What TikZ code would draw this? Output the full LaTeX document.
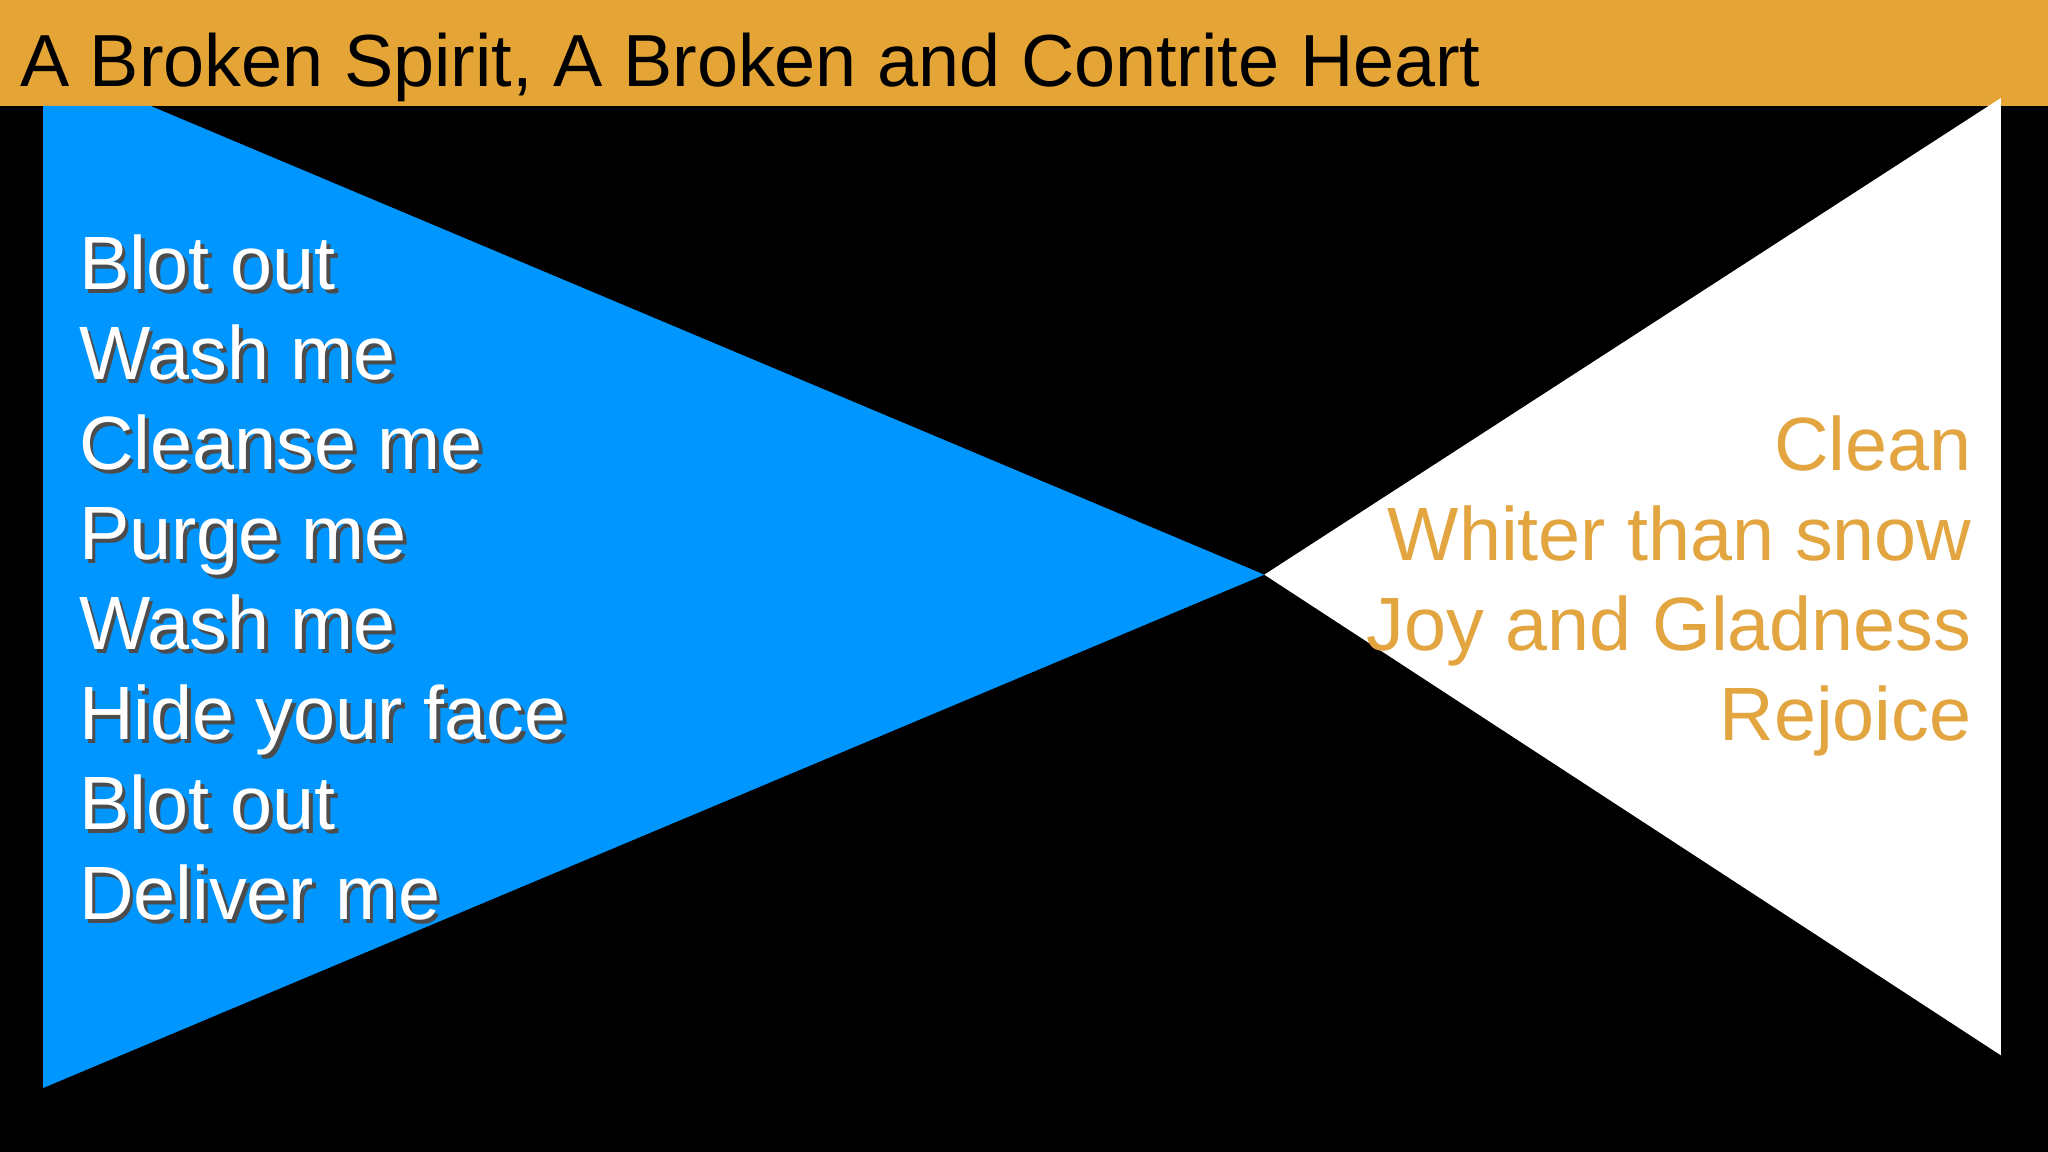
\documentclass[tikz,border=0pt]{standalone}
\usepackage{fontspec}
\setmainfont{Liberation Sans}
\definecolor{barorange}{HTML}{E4A436}
\definecolor{tblue}{HTML}{0096FF}
\definecolor{txtorange}{HTML}{E2A540}
\begin{document}
\begin{tikzpicture}[x=0.013061cm,y=-0.013061cm,
  lefttxt/.style={anchor=base west,inner sep=0pt,text=white,font=\fontsize{21.5}{24}\selectfont},
  shadowtxt/.style={anchor=base west,inner sep=0pt,text=black!70,font=\fontsize{21.5}{24}\selectfont},
  righttxt/.style={anchor=base east,inner sep=0pt,text=txtorange,font=\fontsize{21.5}{24}\selectfont}]
\fill[black] (0,0) rectangle (1568,882);
\useasboundingbox (0,0) rectangle (1568,882);
\fill[barorange] (0,0) rectangle (1568,81);
\node[anchor=base west,inner sep=0pt,font=\fontsize{21}{24}\selectfont] (title) at (15,66) {A Broken Spirit, A Broken and Contrite Heart};
\fill[tblue] (33,81) -- (115,81) -- (968,440) -- (33,833) -- cycle;
\fill[white] (968,440) -- (1532,75) -- (1532,808) -- cycle;
\foreach \t [count=\i] in {Blot out,Wash me,Cleanse me,Purge me,Wash me,Hide your face,Blot out,Deliver me}{
  \node[shadowtxt] (s\i) at (63,{222+68.9*(\i-1)+3}) {\t};
  \node[lefttxt] (l\i) at (60,{222+68.9*(\i-1)}) {\t};
}
\foreach \t [count=\i] in {Clean,Whiter than snow,Joy and Gladness,Rejoice}{
  \node[righttxt] (r\i) at (1510,{360+68.9*(\i-1)}) {\t};
}
\end{tikzpicture}
\end{document}
